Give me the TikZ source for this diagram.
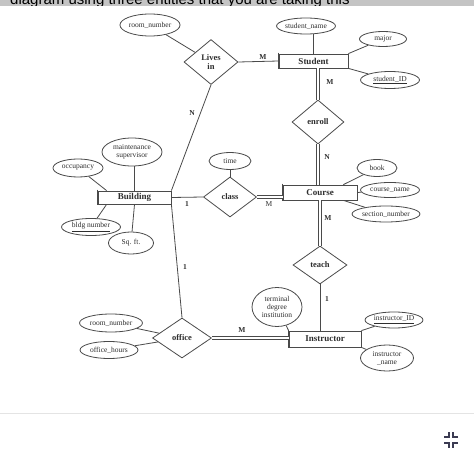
\documentclass[tikz,border=0pt]{standalone}
\usepackage{fontspec}
\setmainfont{Liberation Serif}
\newfontfamily\barfont{Liberation Sans}
\usetikzlibrary{shapes.geometric}
\definecolor{linegray}{HTML}{4A4A4A}
\definecolor{textgray}{HTML}{2E2E2E}
\definecolor{bargray}{HTML}{C4C4C4}
\definecolor{rulegray}{HTML}{E4E4E4}
\definecolor{icongray}{HTML}{3B3B52}
\begin{document}
\begin{tikzpicture}[x=1pt, y=-1pt,
    every node/.style={text=textgray},
    entity/.style={draw=linegray, line width=0.8pt, fill=white, inner sep=0pt,
        font=\bfseries\fontsize{9}{10}\selectfont,
        append after command={([yshift=1pt]\tikzlastnode.north west)
            edge[draw=linegray, line width=1.4pt] ([yshift=-1pt]\tikzlastnode.south west)}},
    attr/.style={ellipse, draw=linegray, line width=0.8pt, inner sep=0pt, align=center,
        font=\fontsize{7.5}{8}\selectfont},
    rel/.style={diamond, draw=linegray, line width=0.8pt, fill=white, inner sep=0pt,
        align=center, font=\bfseries\fontsize{8.5}{9.5}\selectfont},
    card/.style={inner sep=0pt, font=\bfseries\fontsize{7.5}{8}\selectfont},
    link/.style={draw=linegray, line width=0.8pt},
    total/.style={draw=linegray, line width=0.8pt, double=white, double distance=1.6pt}]

\useasboundingbox (0,0) rectangle (474,465);
\fill[white] (0,0) rectangle (474,465);

% cut-off heading of the page
\begin{scope}
\clip (0,0) rectangle (474,6);
\fill[bargray] (0,0) rectangle (474,6);
\node[anchor=base west, inner sep=0pt, text=black, font=\barfont\fontsize{15}{16}\selectfont]
    (heading) at (10,5) {diagram using three entities that you are taking this};
\end{scope}

% entities
\node[entity, minimum width=69pt, minimum height=14pt] (student) at (313.5,61) {Student};
\node[entity, minimum width=73pt, minimum height=13pt] (building) at (134.5,197.5) {Building};
\node[entity, minimum width=74pt, minimum height=15pt] (course) at (320,192.5) {Course};
\node[entity, minimum width=72pt, minimum height=16pt] (instructor) at (325,339) {Instructor};

% relationships
\node[rel, minimum width=54pt, minimum height=45pt] (lives) at (211,62) {Lives\\in};
\node[rel, minimum width=52pt, minimum height=44pt] (enroll) at (318,122) {enroll};
\node[rel, minimum width=53pt, minimum height=40pt] (class) at (230,197) {class};
\node[rel, minimum width=54pt, minimum height=38pt] (teach) at (320,265) {teach};
\node[rel, minimum width=59pt, minimum height=40pt] (office) at (182,338) {office};

% attributes
\node[attr, minimum width=60pt, minimum height=22pt] (roomtop) at (150,25) {room\_number};
\node[attr, minimum width=56pt, minimum height=16pt] (sname) at (306,26) {student\_name};
\node[attr, minimum width=47pt, minimum height=15pt] (major) at (383,39) {major};
\node[attr, minimum width=59pt, minimum height=17pt] (sid) at (390,80) {\underline{student\_ID}};
\node[attr, minimum width=42pt, minimum height=17pt] (time) at (230,161) {time};
\node[attr, minimum width=60pt, minimum height=28pt] (maint) at (132,152) {maintenance\\supervisor};
\node[attr, minimum width=50pt, minimum height=18pt] (occ) at (78,168) {occupancy};
\node[attr, minimum width=59pt, minimum height=17pt] (bldg) at (91,227) {\underline{bldg number}};
\node[attr, minimum width=45pt, minimum height=22pt] (sqft) at (131,243) {Sq. ft.};
\node[attr, minimum width=40pt, minimum height=17pt] (book) at (377,168) {book};
\node[attr, minimum width=59pt, minimum height=15pt] (cname) at (390,190) {course\_name};
\node[attr, minimum width=68pt, minimum height=16pt] (secnum) at (386,214) {section\_number};
\node[attr, minimum width=63pt, minimum height=18pt] (roombot) at (111,323) {room\_number};
\node[attr, minimum width=58pt, minimum height=17pt] (ohrs) at (109,350) {office\_hours};
\node[attr, minimum width=50pt, minimum height=39pt] (tdi) at (277,307) {terminal\\degree\\institution};
\node[attr, minimum width=58pt, minimum height=16pt] (iid) at (394,320) {\underline{instructor\_ID}};
\node[attr, minimum width=53pt, minimum height=26pt] (iname) at (387,358) {instructor\\\_name};

% attribute links
\draw[link] (roomtop) -- (lives);
\draw[link] (student.north) -- (student.north |- sname.south);
\draw[link] (student.north east) -- (major);
\draw[link] (student.south east) -- (sid);
\draw[link] (time) -- (class);
\draw[link] (building.north) -- (building.north |- maint.south);
\draw[link] (occ) -- ([xshift=9pt]building.north west);
\draw[link] ([xshift=9pt]building.south west) -- (bldg);
\draw[link] (building.south) -- (sqft);
\draw[link] ([xshift=-14pt]course.north east) -- (book);
\draw[link] (course.east) -- (cname);
\draw[link] ([xshift=-14pt]course.south east) -- (secnum);
\draw[link] (roombot) -- (office);
\draw[link] (ohrs) -- (office);
\draw[link] (tdi) -- (instructor.north west);
\draw[link] (instructor.north east) -- (iid);
\draw[link] (instructor.south east) -- (iname);

% relationship links
\draw[link] (lives.east) -- (student.west);
\draw[total] (enroll.north) -- (enroll.north |- student.south);
\draw[total] (enroll.south) -- (enroll.south |- course.north);
\draw[link] (lives.south) -- (building.north east);
\draw[link] (building.east) -- (class.west);
\draw[total] (class.east) -- (class.east -| course.west);
\draw[total] (course.south) -- (teach.north);
\draw[link] (building.south east) -- (office.north);
\draw[link] (teach.south) -- (teach.south |- instructor.north);
\draw[total] (office.east) -- (office.east -| instructor.west);

% cardinalities
\node[card] (mlives) at (263,57) {M};
\node[card] (menroll) at (330,82) {M};
\node[card] (nlives) at (192,113) {N};
\node[card] (nenroll) at (327,157) {N};
\node[card] (oneclass) at (187,204) {1};
\node[card, font=\fontsize{7.5}{8}\selectfont] (mclass) at (269,204) {M};
\node[card] (mteach) at (328,218) {M};
\node[card] (oneoffice) at (185,267) {1};
\node[card] (moffice) at (242,330) {M};
\node[card] (oneteach) at (327,299) {1};

% page footer
\draw[rulegray, line width=0.8pt] (0,413) -- (474,413);
\begin{scope}[icongray, line width=1.4pt]
\draw (444,437) -- (449,437) -- (449,432);
\draw (458,437) -- (453,437) -- (453,432);
\draw (444,443) -- (449,443) -- (449,448);
\draw (458,443) -- (453,443) -- (453,448);
\end{scope}

\end{tikzpicture}
\end{document}
